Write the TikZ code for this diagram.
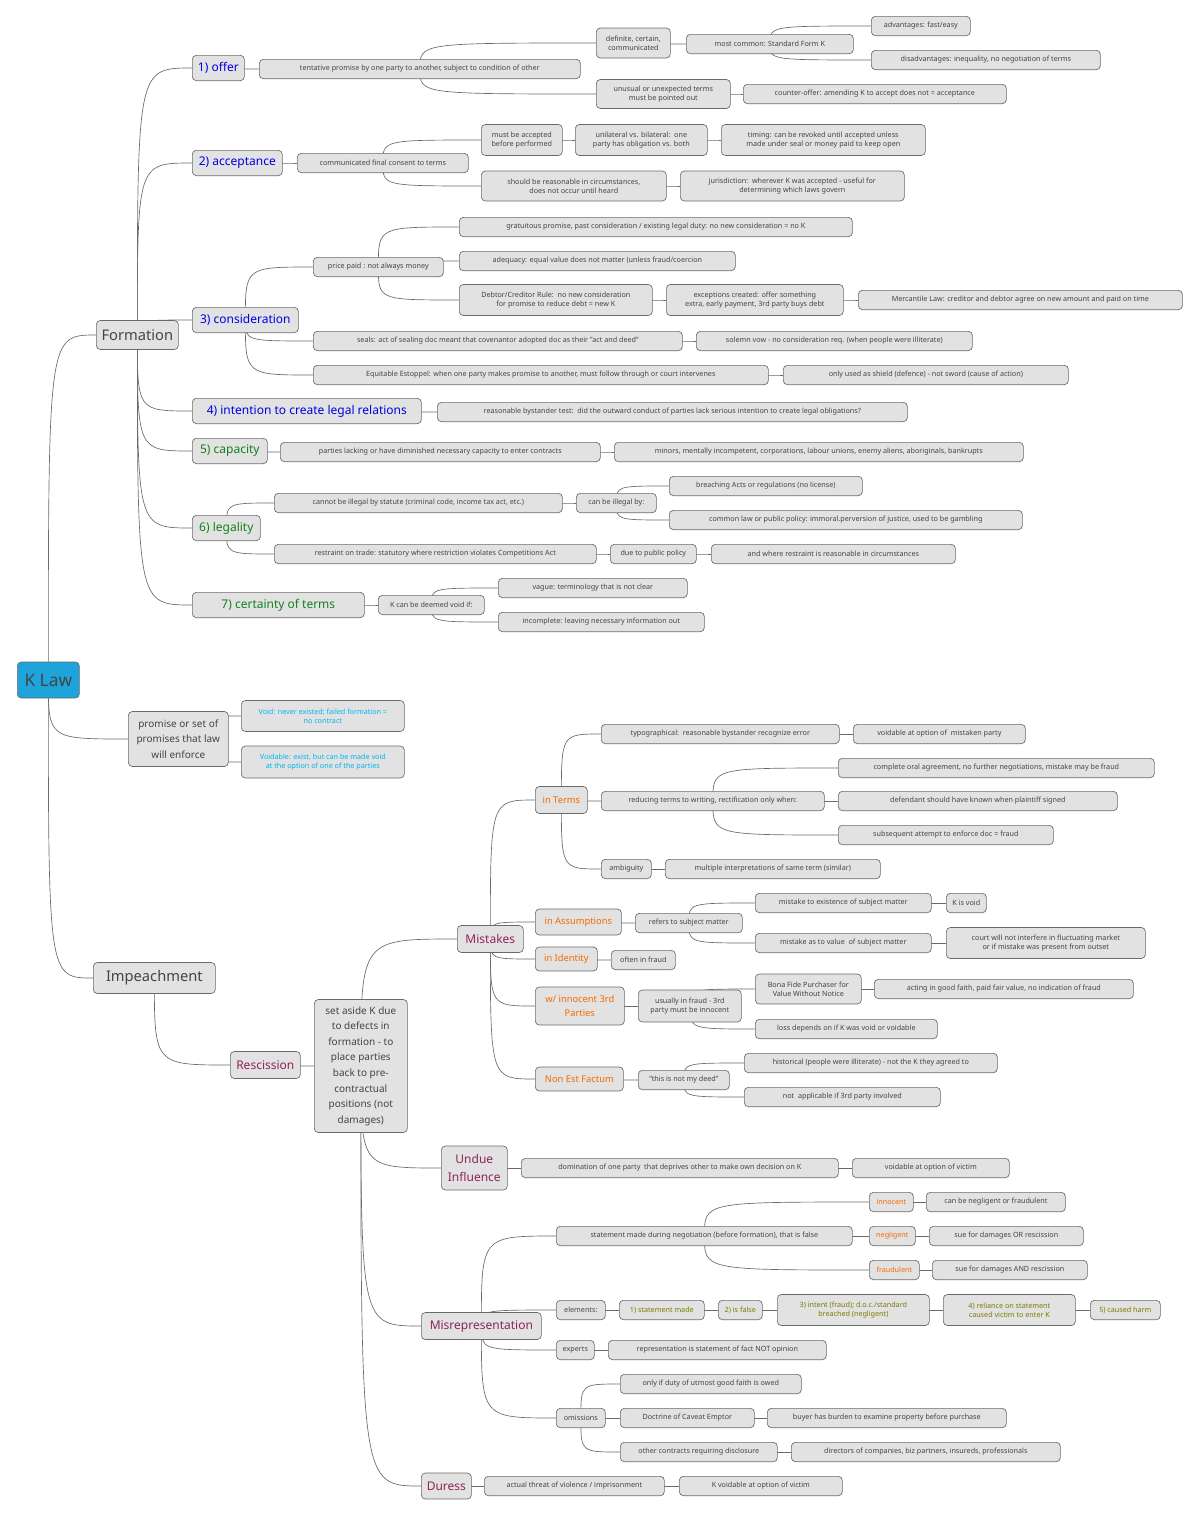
\documentclass[tikz,border=0pt]{standalone}
\usepackage{fontspec}
\setmainfont{Noto Sans}
\usetikzlibrary{backgrounds}
\definecolor{boxg}{HTML}{E2E2E2}
\definecolor{bord}{HTML}{6A6A6A}
\definecolor{txt}{HTML}{444444}
\definecolor{blu}{HTML}{0000E6}
\definecolor{grn}{HTML}{12821E}
\definecolor{mar}{HTML}{8E2457}
\definecolor{org}{HTML}{F56A00}
\definecolor{olv}{HTML}{7A7A00}
\definecolor{cyn}{HTML}{00B4F0}
\definecolor{root}{HTML}{1FA3DB}
\tikzset{
 b/.style={draw=bord,fill=boxg,rounded corners=3pt,anchor=west,text=txt,
   font=\bfseries\fontsize{5.4}{6.9}\selectfont,minimum height=14.5pt,inner sep=2pt,align=center,line width=0.5pt},
 w/.style={minimum width=#1*0.75pt},
 h/.style={minimum height=#1*0.75pt},
 big/.style={font=\bfseries\fontsize{9}{11}\selectfont,minimum height=19pt},
 med/.style={font=\bfseries\fontsize{7}{9}\selectfont},
 edge/.style={draw=bord,line width=0.5pt},
}
\begin{document}
\begin{tikzpicture}[x=0.75pt,y=-0.75pt]
\useasboundingbox (0,0) rectangle (1200,1517);
% root
\node[b,w=62,h=36,fill=root,text=txt,font=\bfseries\fontsize{13}{15}\selectfont] (K) at (17,680) {K Law};
\node[b,w=82,h=29,font=\bfseries\fontsize{11}{13}\selectfont] (F) at (96,335) {Formation};
\node[b,w=122,h=31,font=\bfseries\fontsize{11}{13}\selectfont] (I) at (93,978) {Impeachment};
\node[b,w=100,h=55,font=\bfseries\fontsize{7.5}{11.5}\selectfont] (P) at (128,739) {promise or set of\\promises that law\\will enforce};
\node[b,w=163,h=31,text=cyn] (V1) at (241,716) {Void: never existed; failed formation =\\no contract};
\node[b,w=163,h=32,text=cyn] (V2) at (241,762) {Voidable: exist, but can be made void\\at the option of one of the parties};
% formation level
\node[b,big,w=52,text=blu] (o) at (192,68) {1) offer};
\node[b,big,w=90,text=blu] (a) at (192,163) {2) acceptance};
\node[b,big,w=106,text=blu] (c) at (192,320) {3) consideration};
\node[b,big,w=229,text=blu] (in) at (192,411) {4) intention to create legal relations};
\node[b,big,w=75,text=grn] (ca) at (192,451) {5) capacity};
\node[b,big,w=68,text=grn] (le) at (192,528) {6) legality};
\node[b,big,w=172,text=grn] (ce) at (192,605) {7) certainty of terms};
% offer
\node[b,w=321] (o1) at (259,69) {tentative promise by one party to another, subject to condition of other};
\node[b,w=74,h=30] (o2) at (596,43) {definite, certain,\\communicated};
\node[b,w=134,h=29] (o3) at (596,94) {unusual or unexpected terms\\must be pointed out};
\node[b,w=167] (o4) at (686,44) {most common: Standard Form K};
\node[b,w=99] (o5) at (871,26) {advantages: fast/easy};
\node[b,w=229] (o6) at (871,60) {disadvantages: inequality, no negotiation of terms};
\node[b,w=263] (o7) at (743,94) {counter-offer: amending K to accept does not = acceptance};
% acceptance
\node[b,w=171] (a1) at (297,163) {communicated final consent to terms};
\node[b,w=81,h=31] (a2) at (481,140) {must be accepted\\before performed};
\node[b,w=132,h=31] (a3) at (575,140) {unilateral vs. bilateral:\ \ one\\party has obligation vs. both};
\node[b,w=204,h=31] (a4) at (721,140) {timing: can be revoked until accepted unless\\made under seal or money paid to keep open};
\node[b,w=185,h=30] (a5) at (481,186) {should be reasonable in circumstances,\\does not occur until heard};
\node[b,w=224,h=30] (a6) at (680,186) {jurisdiction:\ \ wherever K was accepted - useful for\\determining which laws govern};
% consideration
\node[b,w=130] (c1) at (313,267) {price paid : not always money};
\node[b,w=393] (c2) at (459,227) {gratuitous promise, past consideration / existing legal duty: no new consideration = no K};
\node[b,w=276] (c3) at (459,261) {adequacy: equal value does not matter (unless fraud/coercion};
\node[b,w=193,h=31] (c4) at (459,300) {Debtor/Creditor Rule:\ \ no new consideration\\for promise to reduce debt = new K};
\node[b,w=177,h=31] (c5) at (666,300) {exceptions created: offer something\\extra, early payment, 3rd party buys debt};
\node[b,w=324] (c6) at (858,300) {Mercantile Law: creditor and debtor agree on new amount and paid on time};
\node[b,w=369] (c7) at (313,341) {seals: act of sealing doc meant that covenantor adopted doc as their "act and deed"};
\node[b,w=276] (c8) at (696,341) {solemn vow - no consideration req. (when people were illiterate)};
\node[b,w=455] (c9) at (313,375) {Equitable Estoppel: when one party makes promise to another, must follow through or court intervenes};
\node[b,w=285] (c10) at (783,375) {only used as shield (defence) - not sword (cause of action)};
\node[b,w=470] (in1) at (437,412) {reasonable bystander test:\ \ did the outward conduct of parties lack serious intention to create legal obligations?};
\node[b,w=320] (ca1) at (280,452) {parties lacking or have diminished necessary capacity to enter contracts};
\node[b,w=409] (ca2) at (614,452) {minors, mentally incompetent, corporations, labour unions, enemy aliens, aboriginals, bankrupts};
% legality
\node[b,w=288] (l1) at (274,503) {cannot be illegal by statute (criminal code, income tax act, etc.)};
\node[b,w=80] (l2) at (576,503) {can be illegal by:};
\node[b,w=193] (l3) at (669,486) {breaching Acts or regulations (no license)};
\node[b,w=353] (l4) at (669,520) {common law or public policy: immoral.perversion of justice, used to be gambling};
\node[b,w=322] (l5) at (274,554) {restraint on trade: statutory where restriction violates Competitions Act};
\node[b,w=86] (l6) at (610,554) {due to public policy};
\node[b,w=244] (l7) at (711,554) {and where restraint is reasonable in circumstances};
\node[b,w=106] (ce1) at (378,605) {K can be deemed void if:};
\node[b,w=189] (ce2) at (498,588) {vague: terminology that is not clear};
\node[b,w=206] (ce3) at (498,622) {incomplete: leaving necessary information out};
% impeachment
\node[b,big,w=70,h=27,text=mar] (R) at (230,1065) {Rescission};
\node[b,w=93,h=133,font=\bfseries\fontsize{7.5}{11.7}\selectfont] (R1) at (314,1066) {set aside K due\\to defects in\\formation - to\\place parties\\back to pre-\\contractual\\positions (not\\damages)};
\node[b,big,w=66,h=27,text=mar] (M) at (457,939) {Mistakes};
\node[b,big,w=66,h=44,text=mar,font=\bfseries\fontsize{9}{13.5}\selectfont] (U) at (441,1168) {Undue\\Influence};
\node[b,big,w=120,h=27,text=mar] (MR) at (421,1326) {Misrepresentation};
\node[b,big,w=50,h=26,text=mar] (D) at (421,1486) {Duress};
% mistakes
\node[b,med,w=52,h=27,text=org] (t) at (535,800) {in Terms};
\node[b,w=238] (t1) at (601,734) {typographical:\ \ reasonable bystander recognize error};
\node[b,w=172] (t2) at (853,734) {voidable at option of\ \ mistaken party};
\node[b,w=223] (t3) at (601,801) {reducing terms to writing, rectification only when:};
\node[b,w=316] (t4) at (838,768) {complete oral agreement, no further negotiations, mistake may be fraud};
\node[b,w=279] (t5) at (838,801) {defendant should have known when plaintiff signed};
\node[b,w=215] (t6) at (838,835) {subsequent attempt to enforce doc = fraud};
\node[b,w=50] (t7) at (601,869) {ambiguity};
\node[b,w=215] (t8) at (665,869) {multiple interpretations of same term (similar)};
\node[b,med,w=86,h=26,text=org] (as) at (535,922) {in Assumptions};
\node[b,w=107] (as1) at (635,923) {refers to subject matter};
\node[b,w=176] (as2) at (755,903) {mistake to existence of subject matter};
\node[b,w=40] (as3) at (946,903) {K is void};
\node[b,w=176] (as4) at (755,943) {mistake as to value\ \ of subject matter};
\node[b,w=199,h=31] (as5) at (946,943) {court will not interfere in fluctuating market\\or if mistake was present from outset};
\node[b,med,w=62,h=24,text=org] (id) at (535,959) {in Identity};
\node[b,w=64] (id1) at (611,960) {often in fraud};
\node[b,med,w=89,h=38,text=org,font=\bfseries\fontsize{7}{11}\selectfont] (w) at (535,1006) {w/ innocent 3rd\\Parties};
\node[b,w=103,h=32] (w1) at (638,1006) {usually in fraud - 3rd\\party must be innocent};
\node[b,w=106,h=30] (w2) at (755,989) {Bona Fide Purchaser for\\Value Without Notice};
\node[b,w=259] (w3) at (874,989) {acting in good faith, paid fair value, no indication of fraud};
\node[b,w=182] (w4) at (755,1029) {loss depends on if K was void or voidable};
\node[b,med,w=88,h=24,text=org] (n) at (535,1079) {Non Est Factum};
\node[b,w=91] (n1) at (638,1080) {"this is not my deed"};
\node[b,w=253] (n2) at (744,1063) {historical (people were illiterate) - not the K they agreed to};
\node[b,w=196] (n3) at (744,1097) {not\ \ applicable if 3rd party involved};
\node[b,w=317] (u1) at (521,1168) {domination of one party\ \ that deprives other to make own decision on K};
\node[b,w=157] (u2) at (852,1168) {voidable at option of victim};
% misrep
\node[b,w=296] (m1) at (556,1236) {statement made during negotiation (before formation), that is false};
\node[b,w=44,text=org] (m2) at (869,1202) {innocent};
\node[b,w=139] (m3) at (926,1202) {can be negligent or fraudulent};
\node[b,w=46,text=org] (m4) at (869,1236) {negligent};
\node[b,w=154] (m5) at (929,1236) {sue for damages OR rescission};
\node[b,w=50,text=org] (m6) at (869,1270) {fraudulent};
\node[b,w=155] (m7) at (932,1270) {sue for damages AND rescission};
\node[b,w=49] (e0) at (556,1310) {elements:};
\node[b,w=85,text=olv] (e1) at (619,1310) {1) statement made};
\node[b,w=44,text=olv] (e2) at (718,1310) {2) is false};
\node[b,w=152,h=31,text=olv] (e3) at (777,1310) {3) intent (fraud); d.o.c./standard\\breached (negligent)};
\node[b,w=132,h=31,text=olv] (e4) at (943,1310) {4) reliance on statement\\caused victim to enter K};
\node[b,w=70,text=olv] (e5) at (1090,1310) {5) caused harm};
\node[b,w=38] (x1) at (556,1350) {experts};
\node[b,w=218] (x2) at (608,1350) {representation is statement of fact NOT opinion};
\node[b,w=49] (om) at (556,1418) {omissions};
\node[b,w=181] (om1) at (620,1384) {only if duty of utmost good faith is owed};
\node[b,w=134] (om2) at (620,1418) {Doctrine of Caveat Emptor};
\node[b,w=239] (om3) at (767,1418) {buyer has burden to examine property before purchase};
\node[b,w=157] (om4) at (620,1452) {other contracts requiring disclosure};
\node[b,w=269] (om5) at (791,1452) {directors of companies, biz partners, insureds, professionals};
\node[b,w=180] (d1) at (484,1486) {actual threat of violence / imprisonment};
\node[b,w=163] (d2) at (679,1486) {K voidable at option of victim};
\begin{scope}[on background layer]
\foreach \p/\q in {K/F,K/I,K/P,P/V1,P/V2,F/o,F/a,F/c,F/in,F/ca,F/le,F/ce,
 o/o1,o1/o2,o1/o3,o2/o4,o4/o5,o4/o6,o3/o7,
 a/a1,a1/a2,a2/a3,a3/a4,a1/a5,a5/a6,
 c/c1,c1/c2,c1/c3,c1/c4,c4/c5,c5/c6,c/c7,c7/c8,c/c9,c9/c10,
 in/in1,ca/ca1,ca1/ca2,le/l1,l1/l2,l2/l3,l2/l4,le/l5,l5/l6,l6/l7,ce/ce1,ce1/ce2,ce1/ce3,
 I/R,R/R1,R1/M,R1/U,R1/MR,R1/D,
 M/t,t/t1,t1/t2,t/t3,t3/t4,t3/t5,t3/t6,t/t7,t7/t8,
 M/as,as/as1,as1/as2,as2/as3,as1/as4,as4/as5,M/id,id/id1,M/w,w/w1,w1/w2,w2/w3,w1/w4,
 M/n,n/n1,n1/n2,n1/n3,U/u1,u1/u2,
 MR/m1,m1/m2,m2/m3,m1/m4,m4/m5,m1/m6,m6/m7,MR/e0,e0/e1,e1/e2,e2/e3,e3/e4,e4/e5,
 MR/x1,x1/x2,MR/om,om/om1,om/om2,om2/om3,om/om4,om4/om5,D/d1,d1/d2}
 \draw[edge] (\p.center) .. controls (\p.center |- \q.west) .. (\q.west);
\end{scope}
\end{tikzpicture}
\end{document}
